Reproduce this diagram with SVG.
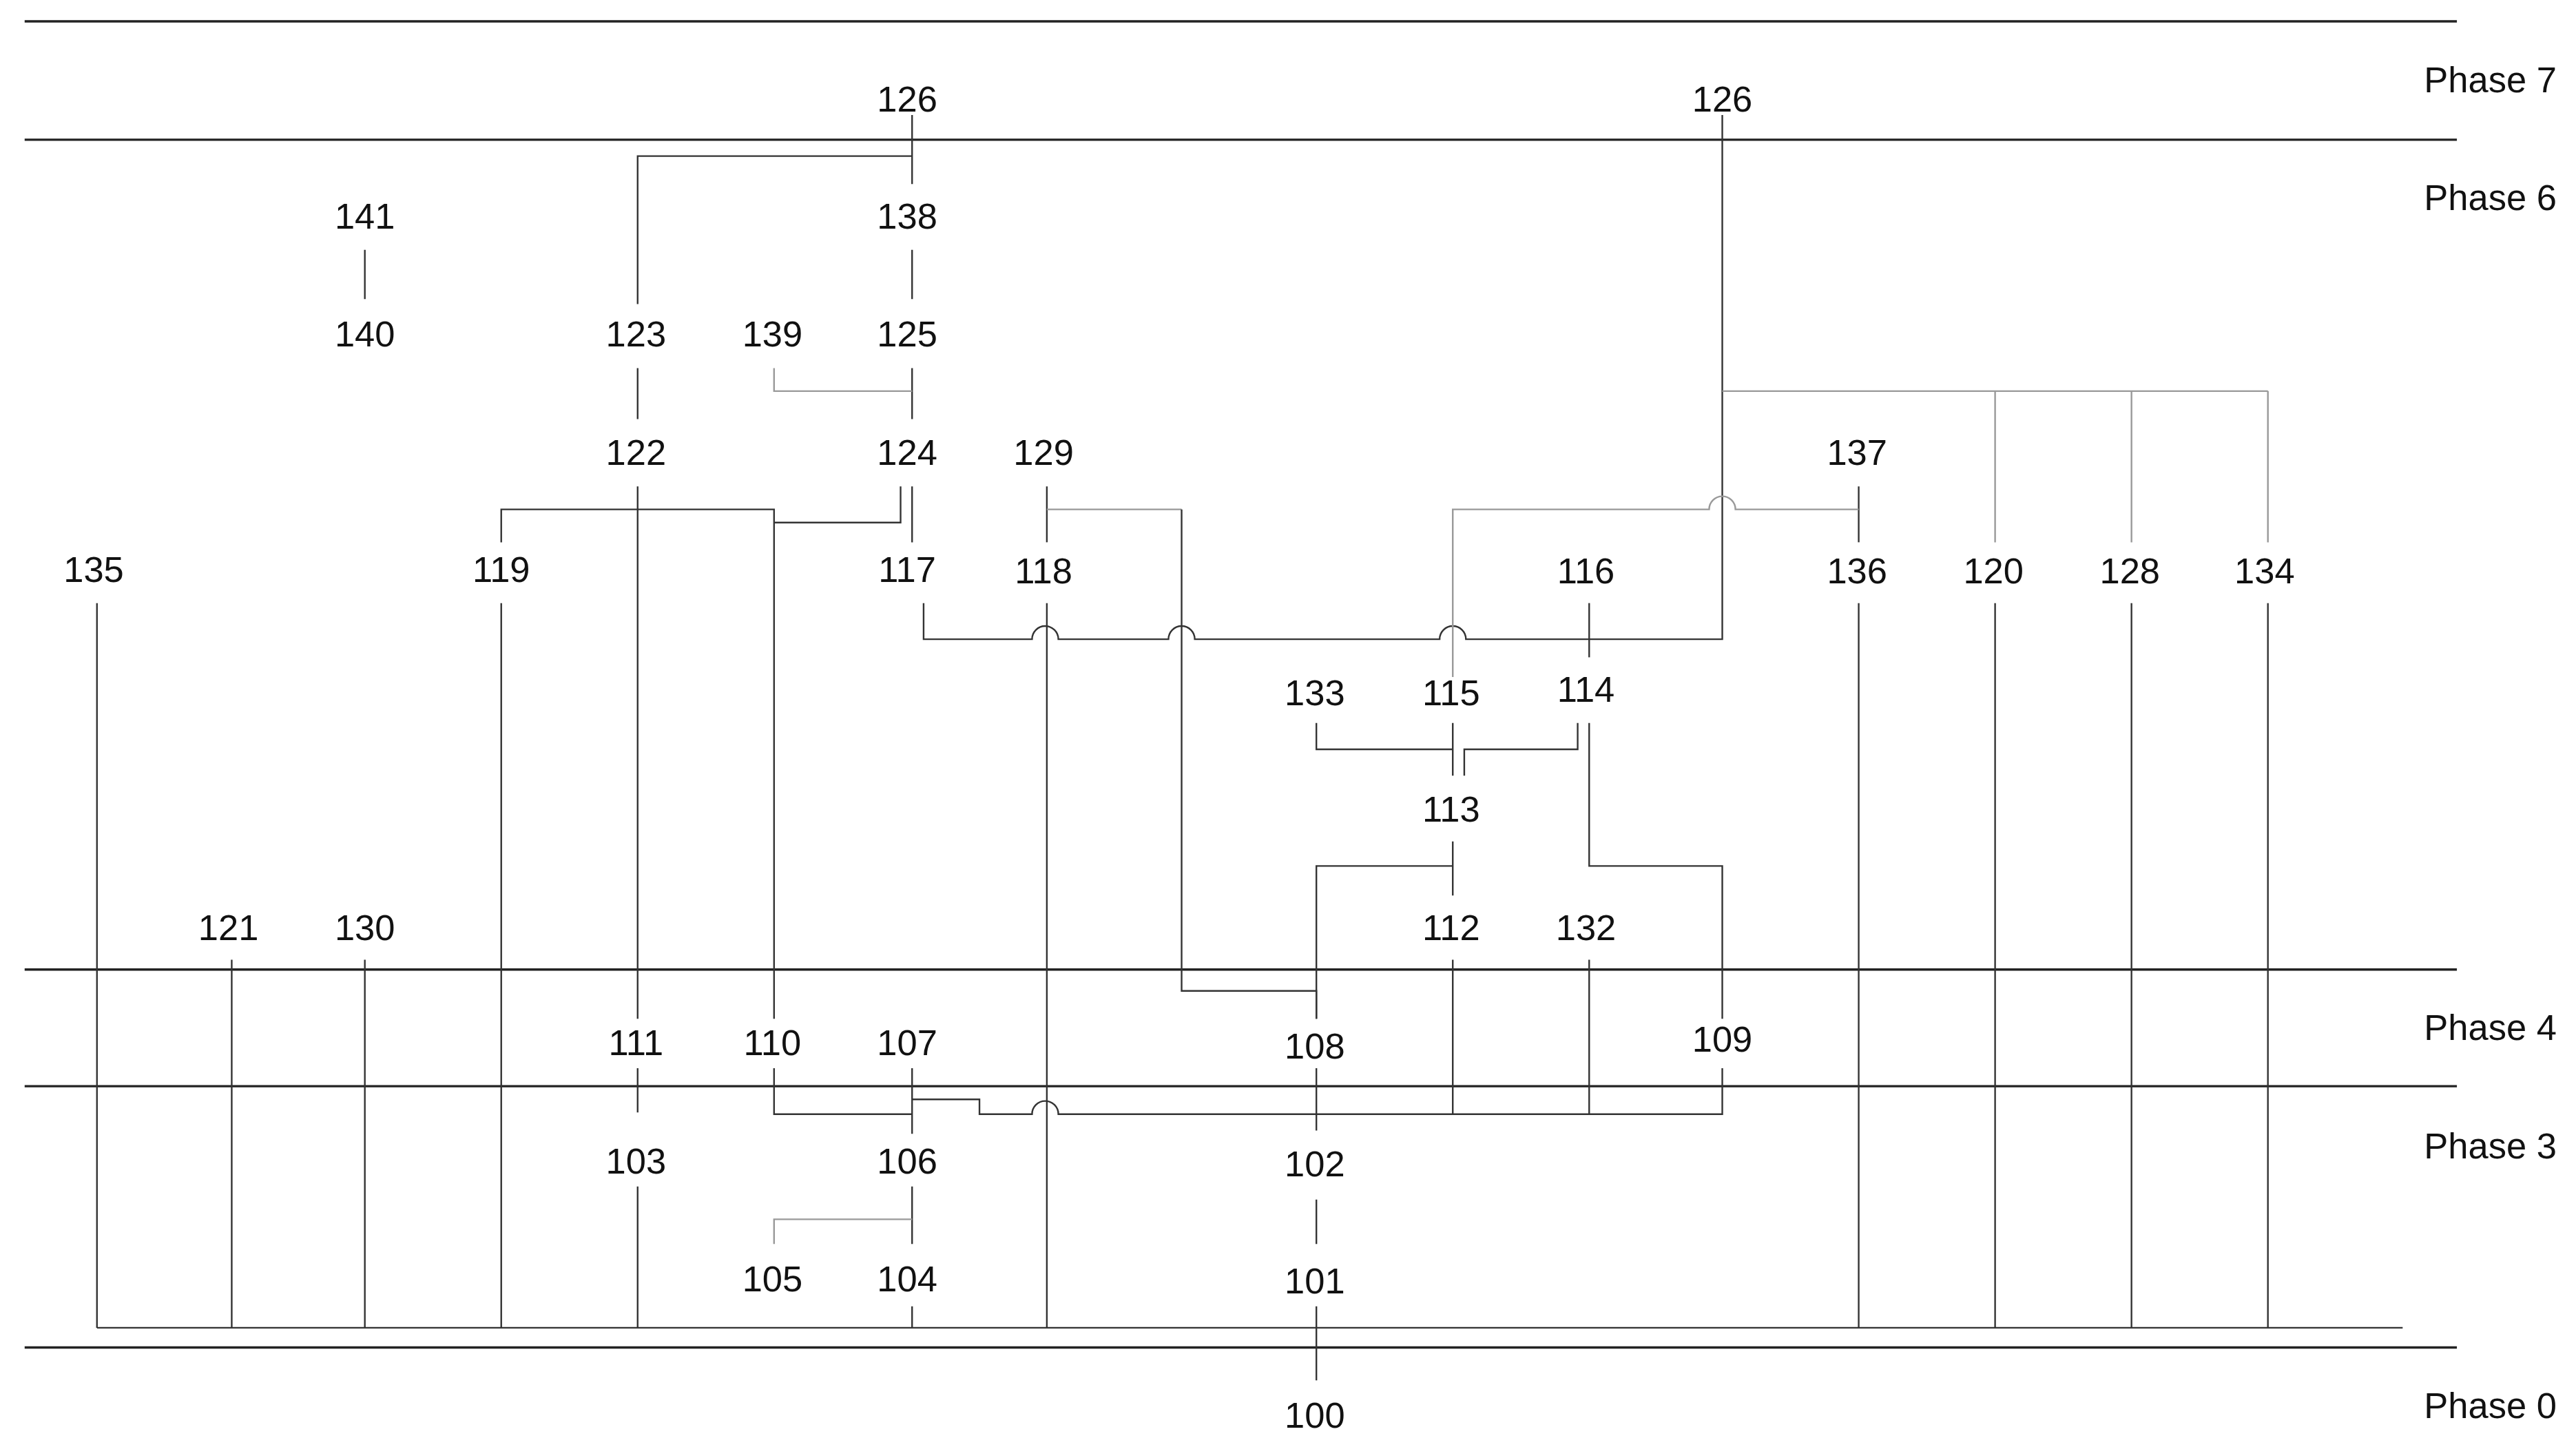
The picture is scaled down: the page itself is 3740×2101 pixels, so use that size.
<svg xmlns="http://www.w3.org/2000/svg" width="3740" height="2101" viewBox="0 0 3740 2101">
<style>
text{font-family:"Liberation Sans",Arial,sans-serif;font-size:22px;fill:#111;text-anchor:middle}
.ph{text-anchor:start}
.c{fill:none;stroke:#333;stroke-width:1}
.g{fill:none;stroke:#999;stroke-width:1}
.b{fill:none;stroke:#222;stroke-width:1.4}
</style>
<rect width="3740" height="2101" fill="#fff"/>
<g transform="scale(2.386)">
<g id="phases">
<path class="b" d="M15 13H1495M15 85H1495M15 590H1495M15 661H1495M15 820H1495"/>
<text class="ph" x="1475" y="56">Phase 7</text>
<text class="ph" x="1475" y="128">Phase 6</text>
<text class="ph" x="1475" y="633">Phase 4</text>
<text class="ph" x="1475" y="705">Phase 3</text>
<text class="ph" x="1475" y="863">Phase 0</text>
</g>
<g id="connectors">
<path class="c" d="M555 70V112M555 95H388V185"/>
<path class="c" d="M222 152V182M555 152V182M555 224V255M388 224V255"/>
<path class="g" d="M471 224V238H555"/>
<path class="c" d="M388 296V620M555 296V330M548 296V318H471M305 330V310H471V620M305 367V808"/>
<path class="c" d="M59 367V808"/>
<path class="c" d="M562 367V389H628a8 8 0 0 1 16 0H711a8 8 0 0 1 16 0H876a8 8 0 0 1 16 0H1048V70"/>
<path class="g" d="M1048 238H1380M1214 238V330M1297 238V330M1380 238V330"/>
<path class="c" d="M1214 367V808M1297 367V808M1380 367V808M1131 367V808"/>
<path class="c" d="M1131 296V330"/>
<path class="g" d="M884 412V310H1040a8 8 0 0 1 16 0H1131"/>
<path class="c" d="M637 296V330"/>
<path class="g" d="M637 310H719"/>
<path class="c" d="M719 310V603H801V620M637 367V808"/>
<path class="c" d="M967 367V400"/>
<path class="c" d="M801 440V456H884M884 440V472M891 472V456H960V440"/>
<path class="c" d="M884 512V545M884 527H801V620M967 440V527H1048V620"/>
<path class="c" d="M884 584V678M967 584V678M1048 650V678H644a8 8 0 0 0 -16 0H596V669H555M555 650V690M471 650V678H555"/>
<path class="c" d="M801 650V688M388 650V677M141 584V808M222 584V808"/>
<path class="c" d="M555 722V757M801 730V757M388 722V808M555 795V808M801 795V840"/>
<path class="g" d="M471 757V742H555"/>
<path class="c" d="M59 808H1462"/>
</g>
<g id="n126a"><text x="552" y="68">126</text></g>
<g id="n126b"><text x="1048" y="68">126</text></g>
<g id="n141"><text x="222" y="139">141</text></g>
<g id="n138"><text x="552" y="139">138</text></g>
<g id="n140"><text x="222" y="211">140</text></g>
<g id="n123"><text x="387" y="211">123</text></g>
<g id="n139"><text x="470" y="211">139</text></g>
<g id="n125"><text x="552" y="211">125</text></g>
<g id="n122"><text x="387" y="283">122</text></g>
<g id="n124"><text x="552" y="283">124</text></g>
<g id="n129"><text x="635" y="283">129</text></g>
<g id="n137"><text x="1130" y="283">137</text></g>
<g id="n135"><text x="57" y="354">135</text></g>
<g id="n119"><text x="305" y="354">119</text></g>
<g id="n117"><text x="552" y="354">117</text></g>
<g id="n118"><text x="635" y="355">118</text></g>
<g id="n116"><text x="965" y="355">116</text></g>
<g id="n136"><text x="1130" y="355">136</text></g>
<g id="n120"><text x="1213" y="355">120</text></g>
<g id="n128"><text x="1296" y="355">128</text></g>
<g id="n134"><text x="1378" y="355">134</text></g>
<g id="n133"><text x="800" y="429">133</text></g>
<g id="n115"><text x="883" y="429">115</text></g>
<g id="n114"><text x="965" y="427">114</text></g>
<g id="n113"><text x="883" y="500">113</text></g>
<g id="n121"><text x="139" y="572">121</text></g>
<g id="n130"><text x="222" y="572">130</text></g>
<g id="n112"><text x="883" y="572">112</text></g>
<g id="n132"><text x="965" y="572">132</text></g>
<g id="n111"><text x="387" y="642">111</text></g>
<g id="n110"><text x="470" y="642">110</text></g>
<g id="n107"><text x="552" y="642">107</text></g>
<g id="n108"><text x="800" y="644">108</text></g>
<g id="n109"><text x="1048" y="640">109</text></g>
<g id="n103"><text x="387" y="714">103</text></g>
<g id="n106"><text x="552" y="714">106</text></g>
<g id="n102"><text x="800" y="716">102</text></g>
<g id="n105"><text x="470" y="786">105</text></g>
<g id="n104"><text x="552" y="786">104</text></g>
<g id="n101"><text x="800" y="787">101</text></g>
<g id="n100"><text x="800" y="869">100</text></g>
</g>
</svg>
